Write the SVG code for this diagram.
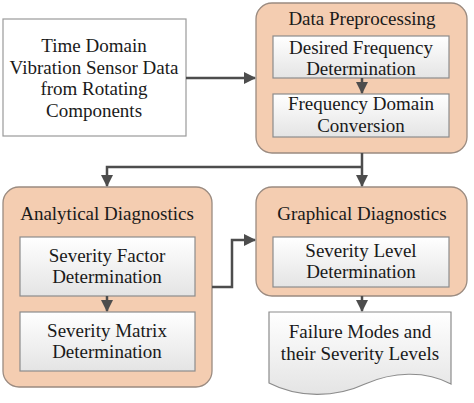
<svg xmlns="http://www.w3.org/2000/svg" width="474" height="403" viewBox="0 0 474 403" font-family="Liberation Serif, Times New Roman, serif" font-size="19">
<defs>
<linearGradient id="g" x1="0" y1="0" x2="0" y2="1">
<stop offset="0" stop-color="#ffffff"/>
<stop offset="1" stop-color="#e4e4e4"/>
</linearGradient>
<marker id="ah" markerWidth="12" markerHeight="12" refX="11" refY="6" orient="auto" markerUnits="userSpaceOnUse">
<path d="M0,0 L12,6 L0,12 Z" fill="#4d4d4d"/>
</marker>
<style>
text{fill:#1a1a1a;text-anchor:middle}
.ct{fill:#f4cdb1;stroke:#9b8b80;stroke-width:1.3}
.in{fill:url(#g);stroke:#8c8c8c;stroke-width:1.2}
.src{fill:#ffffff;stroke:#9a9a9a;stroke-width:1.2}
.cn{fill:none;stroke:#4d4d4d;stroke-width:2.5;marker-end:url(#ah)}
</style>
</defs>
<rect width="474" height="403" fill="#ffffff"/>
<g id="source">
<rect class="src" x="3" y="19" width="183" height="117"/>
<text x="94" y="52" font-family="Liberation Serif">Time Domain</text>
<text x="94" y="73.5">Vibration Sensor Data</text>
<text x="94" y="95">from Rotating</text>
<text x="94" y="116.5">Components</text>
</g>
<g id="data-preprocessing">
<rect class="ct" x="256" y="3" width="211" height="150" rx="16"/>
<text x="362" y="25">Data Preprocessing</text>
</g>
<g id="desired-frequency">
<rect class="in" x="273" y="36" width="176" height="42"/>
<text x="361" y="54">Desired Frequency</text>
<text x="361" y="75">Determination</text>
</g>
<g id="frequency-domain">
<rect class="in" x="273" y="94" width="176" height="43"/>
<text x="361" y="110">Frequency Domain</text>
<text x="361" y="131.5">Conversion</text>
</g>
<g id="analytical-diagnostics">
<rect class="ct" x="3" y="187" width="209" height="200" rx="16"/>
<text x="107" y="220">Analytical Diagnostics</text>
</g>
<g id="severity-factor">
<rect class="in" x="20" y="237" width="175" height="59"/>
<text x="107" y="262">Severity Factor</text>
<text x="107" y="283">Determination</text>
</g>
<g id="severity-matrix">
<rect class="in" x="20" y="312" width="175" height="59"/>
<text x="107" y="337">Severity Matrix</text>
<text x="107" y="358">Determination</text>
</g>
<g id="graphical-diagnostics">
<rect class="ct" x="256" y="187" width="211" height="109" rx="16"/>
<text x="362" y="220">Graphical Diagnostics</text>
</g>
<g id="severity-level">
<rect class="in" x="273" y="237" width="176" height="50"/>
<text x="361" y="257">Severity Level</text>
<text x="361" y="278">Determination</text>
</g>
<g id="failure-modes">
<path class="in" d="M269,312 H451 V384 C425,370 392,372 365,384 C335,398 298,398 269,383 Z"/>
<text x="360" y="338">Failure Modes and</text>
<text x="360" y="360">their Severity Levels</text>
</g>
<g id="connectors">
<path class="cn" d="M186,78 H255"/>
<path class="cn" d="M362,78 V93"/>
<path class="cn" d="M362,153 V186"/>
<path class="cn" d="M362,167 H107 V186"/>
<path class="cn" d="M107,296 V311"/>
<path class="cn" d="M212,287 H232 V240 H255"/>
<path class="cn" d="M362,296 V311"/>
</g>
</svg>
